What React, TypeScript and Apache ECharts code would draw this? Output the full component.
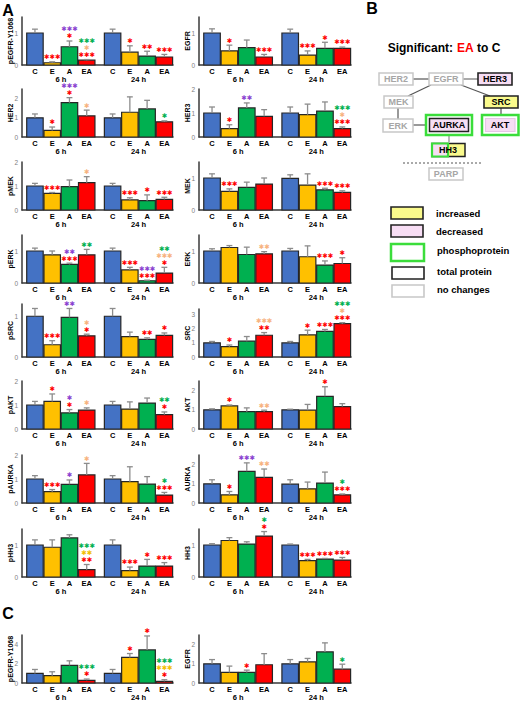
import React, { useEffect, useRef } from 'react';
import * as echarts from 'echarts';

const FONT = '"Liberation Sans", Arial, Helvetica, sans-serif';
const STAR_FONT = '"DejaVu Sans", "Liberation Sans", sans-serif';
const STAR_CHAR = '\u2731';

const CATS = ['C', 'E', 'A', 'EA'];
const TIMES = ['6 h', '24 h'];
const BAR_COLORS = ['#4472C4', '#FFC000', '#00B050', '#FF0000'];
const STAR_COLORS: Record<string, string> = { r: '#FF0000', p: '#8A3FD0', g: '#00B050', o: '#F7B27E', y: '#F2BE00' };

// ---- data (order: 6 h C,E,A,EA then 24 h C,E,A,EA). stars: bottom-first tokens, colour letter + count
const PEGFR_MEAN = [1.0, 0.07, 0.57, 0.15, 1.0, 0.4, 0.28, 0.25];
const PEGFR_ERR = [0.12, 0.03, 0.18, 0.02, 0.12, 0.2, 0.15, 0.08];
const PEGFR_STARS = ['', 'r3', 'r1 p3', 'r3 o1 g3', '', 'r1', 'r2', 'r3'];

const EGFR_MEAN = [1.0, 0.44, 0.54, 0.25, 1.0, 0.31, 0.52, 0.52];
const EGFR_ERR = [0.13, 0.18, 0.24, 0.08, 0.12, 0.13, 0.19, 0.04];
const EGFR_STARS = ['', 'r1', '', 'r3', '', 'r3', 'r1', 'r3'];

const HER2_MEAN = [1.0, 0.34, 1.79, 1.1, 1.0, 1.29, 1.46, 0.79];
const HER2_ERR = [0.2, 0.18, 0.26, 0.3, 0.2, 0.8, 0.45, 0.05];
const HER2_STARS = ['', 'r1', 'r1 p3', 'o1', '', '', '', 'g1'];

const HER3_MEAN = [1.0, 0.35, 1.21, 0.86, 1.0, 0.93, 1.08, 0.35];
const HER3_ERR = [0.25, 0.16, 0.21, 0.28, 0.25, 0.44, 0.38, 0.07];
const HER3_STARS = ['', 'r1', 'p2', '', '', '', '', 'r3 o1 g3'];

const PMEK_MEAN = [1.0, 0.69, 0.97, 1.14, 1.0, 0.42, 0.39, 0.44];
const PMEK_ERR = [0.11, 0.04, 0.28, 0.25, 0.11, 0.09, 0.24, 0.09];
const PMEK_STARS = ['', 'r3', '', 'o1', '', 'r3', 'r1', 'r3'];

const MEK_MEAN = [1.0, 0.58, 0.71, 0.81, 0.99, 0.78, 0.63, 0.55];
const MEK_ERR = [0.13, 0.08, 0.16, 0.19, 0.11, 0.35, 0.05, 0.05];
const MEK_STARS = ['', 'r3', '', '', '', '', 'r3', 'r3'];

const PERK_MEAN = [1.0, 0.88, 0.58, 0.88, 1.0, 0.41, 0.07, 0.31];
const PERK_ERR = [0.09, 0.12, 0.04, 0.17, 0.09, 0.08, 0.02, 0.18];
const PERK_STARS = ['', '', 'r3 p2', 'g2', '', 'r3', 'r3 p3', 'r1 o3 g2'];

const ERK_MEAN = [1.0, 1.11, 0.89, 0.91, 1.0, 0.82, 0.56, 0.61];
const ERK_ERR = [0.07, 0.06, 0.23, 0.07, 0.08, 0.34, 0.13, 0.18];
const ERK_STARS = ['', '', '', 'o2', '', '', 'r3', 'r1'];

const PSRC_MEAN = [1.0, 0.3, 0.97, 0.52, 1.0, 0.5, 0.43, 0.53];
const PSRC_ERR = [0.19, 0.1, 0.22, 0.04, 0.19, 0.11, 0.04, 0.06];
const PSRC_STARS = ['', 'r3', 'p2', 'r1 o1', '', '', 'r2', 'r1'];

const SRC_MEAN = [1.0, 0.73, 1.12, 1.54, 1.0, 1.57, 1.81, 2.36];
const SRC_ERR = [0.1, 0.12, 0.33, 0.19, 0.1, 0.33, 0.14, 0.07];
const SRC_STARS = ['', 'r1', '', 'r2 o3', '', 'r1', 'r3', 'r3 o1 g3'];

const PAKT_MEAN = [1.0, 1.15, 0.67, 0.79, 1.0, 0.83, 1.08, 0.6];
const PAKT_ERR = [0.15, 0.31, 0.14, 0.09, 0.15, 0.3, 0.21, 0.11];
const PAKT_STARS = ['', 'r1', 'r1 p1', 'o1', '', '', '', 'r1 g2'];

const AKT_MEAN = [1.0, 1.2, 0.9, 0.9, 1.0, 0.98, 1.7, 1.17];
const AKT_ERR = [0.05, 0.05, 0.2, 0.08, 0.03, 0.3, 0.5, 0.15];
const AKT_STARS = ['', 'r1', '', 'o2', '', '', 'r1', ''];

const PAURKA_MEAN = [1.0, 0.47, 0.78, 1.17, 1.0, 0.89, 0.79, 0.33];
const PAURKA_ERR = [0.14, 0.09, 0.18, 0.48, 0.14, 0.62, 0.31, 0.11];
const PAURKA_STARS = ['', 'r3', 'p1', 'o1', '', '', '', 'r3 g1'];

const AURKA_MEAN = [1.0, 0.42, 1.65, 1.33, 0.98, 0.74, 1.04, 0.42];
const AURKA_ERR = [0.21, 0.18, 0.44, 0.44, 0.23, 0.35, 0.57, 0.05];
const AURKA_STARS = ['', 'r1', 'p3', 'o2', '', '', '', 'r3 g1'];

const PHH3_MEAN = [1.0, 0.93, 1.22, 0.23, 1.0, 0.2, 0.34, 0.34];
const PHH3_ERR = [0.16, 0.23, 0.1, 0.16, 0.16, 0.11, 0.21, 0.11];
const PHH3_STARS = ['', '', '', 'r2 y2 g3', '', 'r3', 'r1', 'r3'];

const HH3_MEAN = [1.0, 1.14, 1.03, 1.28, 1.0, 0.51, 0.56, 0.53];
const HH3_ERR = [0.04, 0.09, 0.07, 0.14, 0.03, 0.04, 0.02, 0.08];
const HH3_STARS = ['', '', '', 'r1 g1', '', 'r3', 'r3', 'r3'];

const C_PEGFR_MEAN = [1.0, 0.76, 1.83, 0.28, 1.0, 2.66, 3.45, 0.17];
const C_PEGFR_ERR = [0.41, 0.41, 0.48, 0.13, 0.41, 0.41, 1.45, 0.17];
const C_PEGFR_STARS = ['', '', '', 'r1 g3', '', 'r1', 'r1', 'r1 y3 g3'];

const C_EGFR_MEAN = [1.0, 0.55, 0.55, 0.95, 1.0, 1.1, 1.62, 0.72];
const C_EGFR_ERR = [0.22, 0.33, 0.12, 0.58, 0.22, 0.18, 0.47, 0.26];
const C_EGFR_STARS = ['', '', 'r1', '', '', '', '', 'g1'];

const CHARTS = [
  { name: 'pEGFR-Y1068', mean: PEGFR_MEAN, err: PEGFR_ERR, stars: PEGFR_STARS },
  { name: 'EGFR', mean: EGFR_MEAN, err: EGFR_ERR, stars: EGFR_STARS },
  { name: 'HER2', mean: HER2_MEAN, err: HER2_ERR, stars: HER2_STARS },
  { name: 'HER3', mean: HER3_MEAN, err: HER3_ERR, stars: HER3_STARS },
  { name: 'pMEK', mean: PMEK_MEAN, err: PMEK_ERR, stars: PMEK_STARS },
  { name: 'MEK', mean: MEK_MEAN, err: MEK_ERR, stars: MEK_STARS },
  { name: 'pERK', mean: PERK_MEAN, err: PERK_ERR, stars: PERK_STARS },
  { name: 'ERK', mean: ERK_MEAN, err: ERK_ERR, stars: ERK_STARS },
  { name: 'pSRC', mean: PSRC_MEAN, err: PSRC_ERR, stars: PSRC_STARS },
  { name: 'SRC', mean: SRC_MEAN, err: SRC_ERR, stars: SRC_STARS },
  { name: 'pAKT', mean: PAKT_MEAN, err: PAKT_ERR, stars: PAKT_STARS },
  { name: 'AKT', mean: AKT_MEAN, err: AKT_ERR, stars: AKT_STARS },
  { name: 'pAURKA', mean: PAURKA_MEAN, err: PAURKA_ERR, stars: PAURKA_STARS },
  { name: 'AURKA', mean: AURKA_MEAN, err: AURKA_ERR, stars: AURKA_STARS },
  { name: 'pHH3', mean: PHH3_MEAN, err: PHH3_ERR, stars: PHH3_STARS },
  { name: 'HH3', mean: HH3_MEAN, err: HH3_ERR, stars: HH3_STARS },
  { name: 'pEGFR-Y1068', mean: C_PEGFR_MEAN, err: C_PEGFR_ERR, stars: C_PEGFR_STARS },
  { name: 'EGFR', mean: C_EGFR_MEAN, err: C_EGFR_ERR, stars: C_EGFR_STARS },
];

// ---- layout (not data)
const COL_LEFT = [22, 199];
const GRID_W = [151, 152];
const ROW_BASE = [65, 137, 210, 283, 357, 429, 503, 577, 683];
// [col, row, yMax, yInterval, height]
const LAYOUT: number[][] = [
  [0, 0, 1.5, 1, 48], [1, 0, 1.5, 1, 48],
  [0, 1, 2.5, 1, 48], [1, 1, 2, 1, 48],
  [0, 2, 2, 1, 48], [1, 2, 1.5, 1, 48],
  [0, 3, 1.5, 1, 48], [1, 3, 1.5, 1, 48],
  [0, 4, 1.3, 1, 53], [1, 4, 3.4, 1, 48],
  [0, 5, 2, 1, 48], [1, 5, 2.5, 1, 48],
  [0, 6, 2, 1, 48], [1, 6, 2.5, 1, 48],
  [0, 7, 1.5, 1, 48], [1, 7, 1.5, 1, 48],
  [0, 8, 5, 2, 48], [1, 8, 2.5, 1, 48],
];
const X_POS = [0.75, 1.75, 2.75, 3.75, 5.25, 6.25, 7.25, 8.25];
const X_MAX = 8.75;
const GROUP_POS = [2.25, 6.75];

const CAT_AT: Record<number, string> = {};
X_POS.forEach((p, i) => { CAT_AT[Math.round(p * 4)] = CATS[i % 4]; });
const GROUP_AT: Record<number, string> = {};
GROUP_POS.forEach((p, i) => { GROUP_AT[Math.round(p * 4)] = TIMES[i]; });

const STAR_SIZE = 6.5;
const STAR_STEP = 7;
const STAR_FIRST = 4.6;

function buildOption() {
  const grid: any[] = [];
  const xAxis: any[] = [];
  const yAxis: any[] = [];
  const series: any[] = [];

  CHARTS.forEach((ch, i) => {
    const [col, row, ymax, yint, h] = LAYOUT[i];
    const base = ROW_BASE[row];
    grid.push({ left: COL_LEFT[col], top: base - h, width: GRID_W[col], height: h, containLabel: false, outerBoundsMode: 'none' });
    const xi = xAxis.length;
    xAxis.push({
      gridIndex: i, type: 'value', min: 0, max: X_MAX, interval: 0.25,
      axisLine: { show: true, onZero: false, lineStyle: { color: '#3a3a3a', width: 1.5 } },
      axisTick: { show: false }, splitLine: { show: false },
      axisLabel: {
        formatter: (v: number) => CAT_AT[Math.round(v * 4)] || '',
        fontSize: 7.5, fontWeight: 'bold', color: '#000', margin: 2, fontFamily: FONT,
        showMinLabel: true, showMaxLabel: true, hideOverlap: false,
      },
    });
    xAxis.push({
      gridIndex: i, type: 'value', min: 0, max: X_MAX, interval: 0.25, position: 'bottom',
      axisLine: { show: false, onZero: false }, axisTick: { show: false }, splitLine: { show: false },
      axisLabel: {
        formatter: (v: number) => GROUP_AT[Math.round(v * 4)] || '',
        fontSize: 7.5, fontWeight: 'bold', color: '#000', margin: 10, fontFamily: FONT, hideOverlap: false,
      },
    });
    yAxis.push({
      gridIndex: i, type: 'value', min: 0, max: ymax, interval: yint,
      name: ch.name, nameLocation: 'middle', nameGap: 8, nameRotate: 90, nameMoveOverlap: false,
      nameTextStyle: { fontSize: 7, fontWeight: 'bold', color: '#000', fontFamily: FONT },
      axisLine: { show: true, onZero: false, lineStyle: { color: '#3a3a3a', width: 1.5 } },
      axisTick: { show: false }, splitLine: { show: false },
      axisLabel: {
        formatter: (v: number) => (Math.abs(v - Math.round(v)) < 1e-6 && Math.round(v) % yint === 0 ? String(Math.round(v)) : ''),
        fontSize: 6.5, color: '#808080', margin: 4, fontFamily: FONT,
      },
    });

    series.push({
      type: 'custom', xAxisIndex: xi, yAxisIndex: i, silent: true, animation: false,
      encode: { x: 0, y: 1 },
      data: ch.mean.map((m, k) => [X_POS[k], m, k % 4]),
      renderItem: (params: any, api: any) => {
        const x = api.value(0);
        const v = api.value(1);
        const a = api.coord([x - 0.5, 0]);
        const b = api.coord([x + 0.5, v]);
        return {
          type: 'rect',
          shape: { x: a[0] + 0.4, y: b[1], width: b[0] - a[0] - 0.8, height: a[1] - b[1] },
          style: { fill: BAR_COLORS[api.value(2)], stroke: '#262626', lineWidth: 1.2 },
        };
      },
    });
    series.push({
      type: 'custom', xAxisIndex: xi, yAxisIndex: i, silent: true, animation: false,
      encode: { x: 0, y: [1, 2] },
      data: ch.mean.map((m, k) => [X_POS[k], m, m + ch.err[k]]),
      renderItem: (params: any, api: any) => {
        const x = api.value(0);
        const lo = api.coord([x, api.value(1)]);
        const hi = api.coord([x, api.value(2)]);
        const c1 = api.coord([x - 0.17, api.value(2)]);
        const c2 = api.coord([x + 0.17, api.value(2)]);
        const st = { stroke: '#8c8c8c', lineWidth: 1.3 };
        return {
          type: 'group',
          children: [
            { type: 'line', shape: { x1: lo[0], y1: lo[1], x2: hi[0], y2: hi[1] }, style: st },
            { type: 'line', shape: { x1: c1[0], y1: c1[1], x2: c2[0], y2: c2[1] }, style: st },
          ],
        };
      },
    });
    const stars = ch.stars;
    series.push({
      type: 'custom', xAxisIndex: xi, yAxisIndex: i, silent: true, animation: false,
      encode: { x: 0, y: 1 },
      data: ch.mean.map((m, k) => [X_POS[k], m + ch.err[k]]),
      renderItem: (params: any, api: any) => {
        const spec = stars[params.dataIndex];
        if (!spec) return { type: 'group', children: [] };
        const p = api.coord([api.value(0), api.value(1)]);
        const toks = spec.split(' ');
        return {
          type: 'group',
          children: toks.map((t: string, j: number) => ({
            type: 'text',
            x: p[0],
            y: p[1] - STAR_FIRST - STAR_STEP * j,
            style: {
              text: STAR_CHAR.repeat(parseInt(t.slice(1), 10)),
              fill: STAR_COLORS[t[0]],
              font: `${STAR_SIZE}px ${STAR_FONT}`,
              textAlign: 'center', textVerticalAlign: 'middle', align: 'center', verticalAlign: 'middle',
            },
          })),
        };
      },
    });
  });

  // ---- panel B diagram + panel letters
  const G: any[] = [];
  const txt = (x: number, y: number, text: string, size: number, fill: string, align = 'center') => ({
    type: 'text', x, y, silent: true,
    style: { text, fill, font: `bold ${size}px ${FONT}`, textAlign: align, textVerticalAlign: 'middle', align, verticalAlign: 'middle' },
  });
  const rect = (x: number, y: number, w: number, h: number, fill: string, stroke: string, lw: number) => ({
    type: 'rect', silent: true, shape: { x, y, width: w, height: h }, style: { fill, stroke, lineWidth: lw },
  });
  const line = (x1: number, y1: number, x2: number, y2: number, stroke: string, lw: number, dash?: number[]) => ({
    type: 'line', silent: true, shape: { x1, y1, x2, y2 }, style: { stroke, lineWidth: lw, lineDash: dash },
  });
  const GRAY = '#c8c8c8';
  const GRAYT = '#a6a6a6';
  const PINK = '#F7DDF4';
  const YEL = '#FAFA8C';
  const GREEN = '#3BDD3B';

  G.push(txt(8, 10, 'A', 16, '#000'));
  G.push(txt(372, 8, 'B', 16, '#000'));
  G.push(txt(8, 613, 'C', 16, '#000'));

  G.push(txt(453, 48, 'Significant:', 12, '#000', 'right'));
  G.push(txt(457, 48, 'EA', 12, '#FF0000', 'left'));
  G.push(txt(477, 48, 'to C', 12, '#000', 'left'));

  // connectors
  G.push(line(413, 79, 429, 79, '#555', 1.2));
  G.push(line(463, 79, 478, 79, '#aaa', 2));
  G.push(line(431, 85, 408, 96, '#555', 1.2));
  G.push(line(461, 85, 490, 96, '#555', 1.2));
  G.push(line(398, 108, 398, 119, '#555', 1.2));
  G.push(line(413, 125, 426, 125, '#555', 1.2));
  G.push(line(449, 135, 449, 142, '#888', 1.2));
  G.push(line(501, 108, 501, 115, '#555', 1.2));
  G.push(line(403, 163, 482, 163, '#555', 1, [2, 2]));

  // nodes
  G.push(rect(379, 73, 34, 12, '#fff', GRAY, 1.5), txt(396, 79, 'HER2', 9, GRAYT));
  G.push(rect(429, 73, 34, 12, '#fff', GRAY, 1.5), txt(446, 79, 'EGFR', 9, GRAYT));
  G.push(rect(478, 73, 34, 12, PINK, '#222', 1.6), txt(495, 79, 'HER3', 9, '#000'));
  G.push(rect(384, 96, 29, 12, '#fff', GRAY, 1.5), txt(398.5, 102, 'MEK', 9, GRAYT));
  G.push(rect(484, 96, 34, 12, YEL, '#222', 1.6), txt(501, 102, 'SRC', 9, '#000'));
  G.push(rect(383, 119, 30, 13, '#fff', GRAY, 1.5), txt(398, 125.5, 'ERK', 9, GRAYT));
  G.push(rect(426, 115, 46, 20, '#fff', GREEN, 2.5), rect(429.5, 118.5, 39, 13, PINK, '#222', 1.5), txt(449, 125, 'AURKA', 9, '#000'));
  G.push(rect(482, 115, 36.5, 20, '#fff', GREEN, 2.5), rect(485.5, 118.5, 29.5, 13, PINK, '#e6c6e6', 1.2), txt(500, 125, 'AKT', 9, '#000'));
  G.push(rect(432, 143.5, 33, 13, YEL, '#222', 1.5));
  G.push(rect(432, 143.5, 16, 13, PINK, GREEN, 2.2));
  G.push(txt(448, 150, 'HH3', 9, '#000'));
  G.push(rect(429, 168, 34, 12, '#fff', GRAY, 1.5), txt(446, 174, 'PARP', 9, GRAYT));

  // legend
  G.push(rect(391, 207, 32, 12, YEL, '#222', 1.6), txt(436, 213, 'increased', 9.5, '#000', 'left'));
  G.push(rect(391, 225, 32, 12, PINK, '#222', 1.6), txt(436, 231, 'decreased', 9.5, '#000', 'left'));
  G.push(rect(391, 244, 33, 17, '#fff', GREEN, 2.5), txt(437, 250, 'phosphoprotein', 9.5, '#000', 'left'));
  G.push(rect(392, 267, 32, 12, '#fff', '#222', 1.6), txt(437, 271, 'total protein', 9.5, '#000', 'left'));
  G.push(rect(392, 285, 32, 12, '#fff', GRAY, 1.6), txt(437, 289, 'no changes', 9.5, '#000', 'left'));

  return {
    animation: false,
    backgroundColor: '#ffffff',
    textStyle: { fontFamily: FONT },
    grid, xAxis, yAxis, series,
    graphic: { elements: G },
  };
}

export default function App() {
  const ref = useRef<HTMLDivElement>(null);
  useEffect(() => {
    if (!ref.current) return;
    const chart = echarts.init(ref.current, null, { renderer: 'svg' });
    chart.setOption(buildOption() as any);
    return () => chart.dispose();
  }, []);
  return <div ref={ref} style={{ position: 'absolute', left: 0, top: 0, width: 520, height: 703, background: '#fff' }} />;
}
